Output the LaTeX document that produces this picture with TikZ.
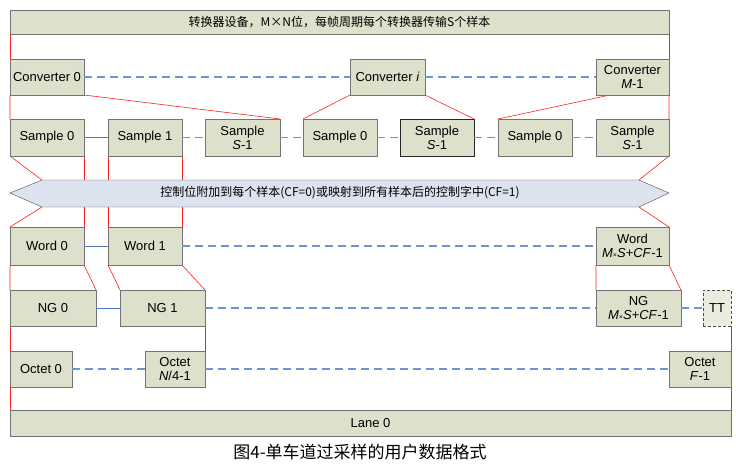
\documentclass[tikz,border=0pt]{standalone}
\usepackage{fontspec}
\setmainfont{Liberation Sans}
\newfontfamily\cjk{Noto Sans CJK SC}
\definecolor{boxfill}{HTML}{DDE0CB}
\definecolor{bannerfill}{HTML}{DCE3EE}
\definecolor{lnk}{HTML}{4F7BC8}
\definecolor{lnkd}{HTML}{6F93D4}
\definecolor{rd}{HTML}{FF2020}
\tikzset{
  blk/.style={draw=black!55, line width=0.7pt, fill=boxfill, inner sep=0pt, align=center, font=\fontsize{13}{14}\selectfont},
  solidlink/.style={lnk, line width=0.9pt},
  dashlink/.style={lnkd, line width=1.1pt, dash pattern=on 8pt off 5pt},
  redl/.style={rd, line width=0.6pt}
}
\newcommand{\bx}[7][]{\node[blk,#1,minimum width={(#5-#3)*1pt},minimum height={(#6-#4)*1pt}] (#2) at ({(#3+#5)/2},{(#4+#6)/2}) {#7};}
\begin{document}
\begin{tikzpicture}[x=1pt,y=-1pt]
\useasboundingbox (0,0) rectangle (736,467);
% red lines first (behind)
\draw[redl] (10,34) -- (10,59) (669,34) -- (669,59);
\draw[redl] (10,95) -- (10,119) (84,95) -- (280,119) (350,95) -- (303,119) (425,95) -- (474,119) (610,95) -- (498,119) (669,95) -- (669,119);
\draw[redl] (10,156) -- (42,180) (669,156) -- (639,180) (42,207) -- (10,227) (639,207) -- (669,227);
\draw[redl] (84,156) -- (84,227) (108,156) -- (108,227) (182,156) -- (182,227);
\draw[redl] (10,265) -- (10,290) (84,265) -- (96,290) (108,265) -- (120,290) (182,265) -- (205,290) (596,265) -- (596,290) (669,265) -- (681,290);
\draw[redl] (10,326) -- (10,351) (205,326) -- (205,351) (731,326) -- (731,351) (10,387) -- (10,410) (731,387) -- (731,410);
% top bar
\bx{top}{10}{10}{669}{34}{\cjk\fontsize{12}{13}\selectfont 转换器设备，M×N位，每帧周期每个转换器传输S个样本}
% converters
\bx{c0}{10}{59}{84}{95}{Converter 0}
\bx{ci}{350}{59}{425}{95}{Converter \textit{i}}
\bx{cm}{596}{59}{669}{95}{Converter\\\textit{M}-1}
% samples
\bx{s1}{10}{119}{84}{156}{Sample 0}
\bx{s2}{108}{119}{182}{156}{Sample 1}
\bx{s3}{205}{119}{280}{156}{Sample\\\textit{S}-1}
\bx{s4}{303}{119}{377}{156}{Sample 0}
\bx[draw=black!85]{s5}{400}{119}{474}{156}{Sample\\\textit{S}-1}
\bx{s6}{498}{119}{572}{156}{Sample 0}
\bx{s7}{596}{119}{669}{156}{Sample\\\textit{S}-1}
% banner
\draw[black!70, fill=bannerfill] (10,193) -- (42,180) -- (639,180) -- (669,193) -- (639,207) -- (42,207) -- cycle;
\node[font=\cjk\fontsize{12}{13}\selectfont] (ban) at (340,193) {控制位附加到每个样本(CF=0)或映射到所有样本后的控制字中(CF=1)};
% words
\bx{w0}{10}{227}{84}{265}{Word 0}
\bx{w1}{108}{227}{182}{265}{Word 1}
\bx{wm}{596}{227}{669}{265}{Word\\\textit{M}{\scriptsize×}\textit{S}+\textit{CF}-1}
% NG
\bx{n0}{10}{290}{96}{326}{NG 0}
\bx{n1}{120}{290}{205}{326}{NG 1}
\bx{nm}{596}{290}{681}{326}{NG\\\textit{M}{\scriptsize×}\textit{S}+\textit{CF}-1}
\bx[draw=black!70, densely dashed, fill=boxfill!60]{tt}{703}{290}{731}{326}{TT}
% octets
\bx{o0}{10}{351}{72}{387}{Octet 0}
\bx{o1}{145}{351}{205}{387}{Octet\\\textit{N}/4-1}
\bx{of}{669}{351}{731}{387}{Octet\\\textit{F}-1}
% lane
\bx{lane}{10}{410}{731}{436}{Lane 0}
% links
\draw[dashlink] (c0) -- (ci); \draw[dashlink] (ci) -- (cm);
\draw[solidlink] (s1) -- (s2);
\draw[dashlink] (s2) -- (s3); \draw[dashlink] (s3) -- (s4); \draw[dashlink] (s4) -- (s5); \draw[dashlink] (s5) -- (s6); \draw[dashlink] (s6) -- (s7);
\draw[solidlink] (w0) -- (w1); \draw[dashlink] (w1) -- (wm);
\draw[solidlink] (n0) -- (n1); \draw[dashlink] (n1) -- (nm); \draw[dashlink] (nm) -- (tt);
\draw[dashlink] (o0) -- (o1); \draw[dashlink] (o1) -- (of);
\node[font=\cjk\fontsize{17}{19}\selectfont] (cap) at (360,452) {图4-单车道过采样的用户数据格式};
\end{tikzpicture}
\end{document}
